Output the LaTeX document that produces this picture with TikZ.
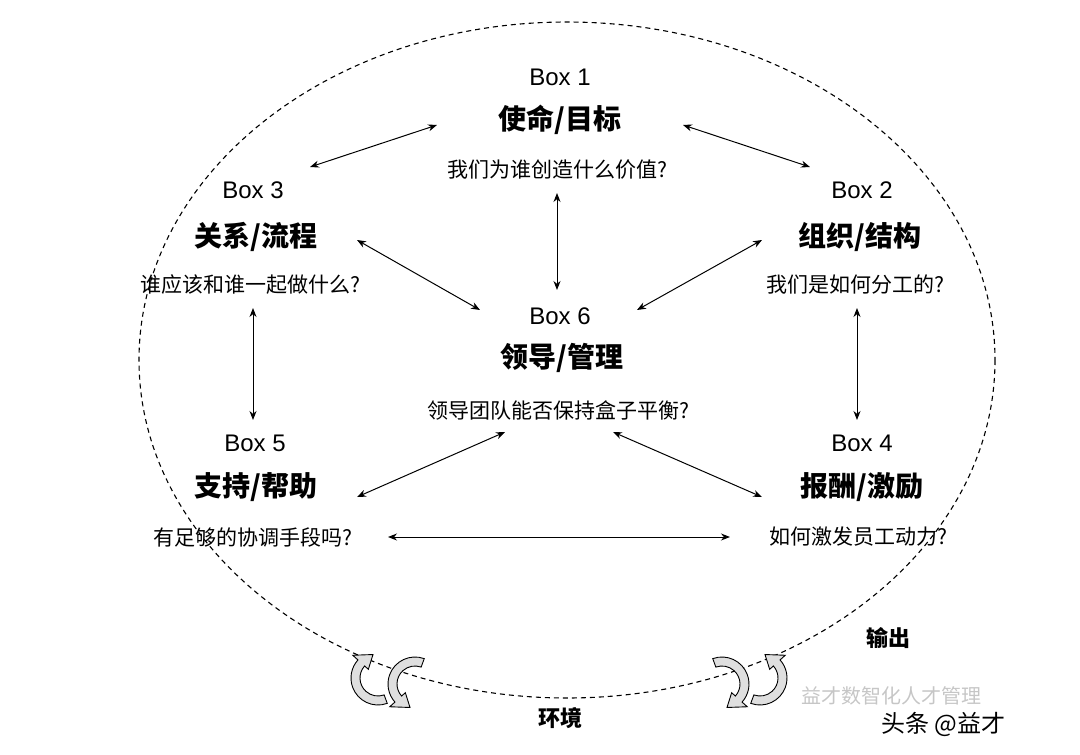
\documentclass[tikz,border=0pt]{standalone}
\usepackage{fontspec}
\setmainfont{Liberation Sans}
\newfontfamily\cjk{Noto Sans CJK SC}
\usetikzlibrary{arrows.meta}
\begin{document}
\begin{tikzpicture}[x=1pt,y=-1pt,
 box/.style={font=\fontsize{24}{24}\selectfont},
 ttl/.style={font=\cjk\bfseries\fontsize{28}{28}\selectfont},
 q/.style={font=\cjk\fontsize{21}{21}\selectfont},
 arr/.style={{Stealth[length=9pt,width=7pt]}-{Stealth[length=9pt,width=7pt]},line width=1pt},
 carrow/.pic={\filldraw[fill=gray!25,line width=0.9pt] (70:27) arc(70:222:27) -- (222:34) -- (258:24) -- (222:13) -- (222:18) arc(222:70:18) -- cycle;}]
\useasboundingbox (0,0) rectangle (1080,755);
\draw[dash pattern=on 5pt off 4pt,line width=1.1pt] (567,360) ellipse [x radius=428, y radius=338];
% arrows at bottom
\pic at (378,678) {carrow};
\pic[yscale=-1] at (415,684) {carrow};
\pic[xscale=-1,yscale=-1] at (722,684) {carrow};
\pic[xscale=-1] at (760,678) {carrow};
% texts
\node[box] (b1) at (560,77) {Box 1};
\node[ttl] (t1) at (560,120) {使命/目标};
\node[q] (q1) at (557,170) {我们为谁创造什么价值?};
\node[box] (b3) at (253,190) {Box 3};
\node[ttl] (t3) at (256,237) {关系/流程};
\node[q] (q3) at (250,285) {谁应该和谁一起做什么?};
\node[box] (b2) at (862,190) {Box 2};
\node[ttl] (t2) at (860,237) {组织/结构};
\node[q] (q2) at (855,285) {我们是如何分工的?};
\node[box] (b6) at (560,316) {Box 6};
\node[ttl] (t6) at (562,358) {领导/管理};
\node[q] (q6) at (558,410) {领导团队能否保持盒子平衡?};
\node[box] (b5) at (255,443) {Box 5};
\node[ttl] (t5) at (256,487) {支持/帮助};
\node[q] (q5) at (253,537) {有足够的协调手段吗?};
\node[box] (b4) at (862,443) {Box 4};
\node[ttl] (t4) at (862,487) {报酬/激励};
\node[q] (q4) at (858,537) {如何激发员工动力?};
\node[font=\cjk\bfseries\fontsize{22}{22}\selectfont] (out) at (888,638) {输出};
\node[font=\cjk\bfseries\fontsize{22}{22}\selectfont] (env) at (560,718) {环境};
\node[font=\cjk\fontsize{20}{20}\selectfont,text=gray!45,anchor=west,inner sep=1pt] (wm1) at (800,696) {益才数智化人才管理};
\node[font=\cjk\fontsize{24}{24}\selectfont,anchor=west,inner sep=1pt] (wm2) at (880,724) {头条 @益才};
% connectors
\coordinate (a1) at (437,125); \coordinate (a2) at (310,167);
\coordinate (a3) at (683,125); \coordinate (a4) at (810,167);
\coordinate (a5) at (557,193); \coordinate (a6) at (557,290);
\coordinate (a7) at (357,240); \coordinate (a8) at (480,310);
\coordinate (a9) at (762,240); \coordinate (a10) at (637,310);
\coordinate (a11) at (253,308); \coordinate (a12) at (253,420);
\coordinate (a13) at (857,308); \coordinate (a14) at (857,420);
\coordinate (a15) at (357,497); \coordinate (a16) at (505,432);
\coordinate (a17) at (762,497); \coordinate (a18) at (613,432);
\coordinate (a19) at (388,537); \coordinate (a20) at (730,537);
\foreach \s/\e in {a1/a2,a3/a4,a5/a6,a7/a8,a9/a10,a11/a12,a13/a14,a15/a16,a17/a18,a19/a20}
  \draw[arr] (\s) -- (\e);
\end{tikzpicture}
\end{document}
